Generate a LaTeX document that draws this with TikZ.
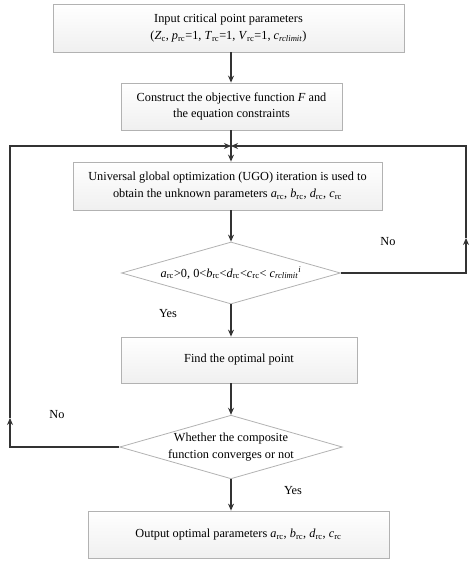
\documentclass[tikz,border=0pt]{standalone}
\usepackage{fontspec}
\setmainfont{Liberation Serif}
\usetikzlibrary{shapes.geometric,arrows.meta}
\newcommand{\rcv}[1]{\textit{#1}\textsubscript{rc}}
\begin{document}
\begin{tikzpicture}[x=1pt,y=-1pt,
  every node/.style={font=\fontsize{12.3}{16.5}\selectfont},
  pbox/.style={draw=gray!60,line width=0.8pt,top color=white,bottom color=gray!12,align=center,inner sep=0pt},
  dbox/.style={diamond,draw=gray!60,line width=0.8pt,fill=white,align=center,inner sep=0pt,aspect=3.5},
  arr/.style={draw=black!80,line width=1.1pt,-{Stealth[length=7pt,width=6pt]}},
  lbl/.style={inner sep=0pt}]
\useasboundingbox (0,0) rectangle (474,564);
\node[pbox,minimum width=351pt,minimum height=48pt] (b1) at (228.5,28)
  {Input critical point parameters\\(\textit{Z}\textsubscript{c}, \rcv{p}=1, \rcv{T}=1, \rcv{V}=1, \textit{c}\textsubscript{\textit{rclimit}})};
\node[pbox,minimum width=221pt,minimum height=47pt] (b2) at (231.5,106.5)
  {Construct the objective function \textit{F} and\\the equation constraints};
\node[pbox,minimum width=309pt,minimum height=48pt] (b3) at (227.5,186)
  {Universal global optimization (UGO) iteration is used to\\obtain the unknown parameters \rcv{a}, \rcv{b}, \rcv{d}, \rcv{c}};
\node[dbox,minimum width=219pt,minimum height=62pt] (d1) at (231,273)
  {\rcv{a}>0, 0<\rcv{b}<\rcv{d}<\rcv{c}< \textit{c}\textsubscript{\textit{rclimit}}\textsuperscript{\textit{i}}};
\node[pbox,minimum width=236pt,minimum height=46pt] (b4) at (239,360)
  {Find the optimal point};
\node[dbox,minimum width=219pt,minimum height=63pt] (d2) at (231,447)
  {Whether the composite\\function converges or not};
\node[pbox,minimum width=301pt,minimum height=47pt] (b5) at (238.5,534.5)
  {Output optimal parameters \rcv{a}, \rcv{b}, \rcv{d}, \rcv{c}};
\coordinate (j) at (231,146);
\coordinate (lm) at (10,418);
\coordinate (rm) at (466,238);
\node[lbl] (no1) at (388,242) {No};
\node[lbl] (yes1) at (168,314) {Yes};
\node[lbl] (no2) at (57,415) {No};
\node[lbl] (yes2) at (293,491) {Yes};
\draw[arr] (b1.south -| j) -- (b2.north -| j);
\draw[arr] (b2.south -| j) -- (b3.north -| j);
\draw[arr] (b3.south -| j) -- (d1.north);
\draw[arr] (d1.south) -- (b4.north -| d1.south);
\draw[arr] (b4.south -| d2.north) -- (d2.north);
\draw[arr] (d2.south) -- (b5.north -| d2.south);
\draw[arr] (d1.east) -| (rm);
\draw[arr] (rm) |- (j);
\draw[arr] (d2.west) -| (lm);
\draw[arr] (lm) |- (j);
\end{tikzpicture}
\end{document}
